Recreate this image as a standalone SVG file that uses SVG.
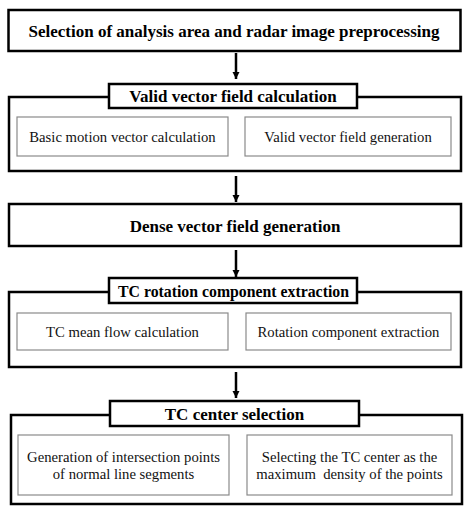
<svg xmlns="http://www.w3.org/2000/svg" width="474" height="515" viewBox="0 0 474 515">
<defs>
<marker id="ah" viewBox="0 0 10 10" refX="10" refY="5" markerWidth="3" markerHeight="3.4" orient="auto" markerUnits="strokeWidth">
<path d="M0,0 L10,5 L0,10 z" fill="#000"/>
</marker>
</defs>
<rect width="474" height="515" fill="#fff"/>
<g id="connectors" stroke="#000" stroke-width="2.5" fill="none">
<line x1="236" y1="53" x2="236" y2="79" marker-end="url(#ah)"/>
<line x1="236" y1="176" x2="236" y2="202" marker-end="url(#ah)"/>
<line x1="236" y1="250" x2="236" y2="277" marker-end="url(#ah)"/>
<line x1="236" y1="372" x2="236" y2="398" marker-end="url(#ah)"/>
</g>
<g id="n1">
<rect x="8.5" y="10" width="452" height="41" fill="#fff" stroke="#000" stroke-width="2.5"/>
<text x="234" y="37" font-family="Liberation Serif, Times New Roman, serif" text-anchor="middle" font-size="17" font-weight="bold" fill="#000">Selection of analysis area and radar image preprocessing</text>
</g>
<g id="n2">
<rect x="9" y="97" width="452" height="74" fill="#fff" stroke="#000" stroke-width="2.5"/>
<rect x="109" y="84" width="248" height="24" fill="#fff" stroke="#000" stroke-width="2.5"/>
<text x="233" y="102" font-family="Liberation Serif, Times New Roman, serif" text-anchor="middle" font-size="17" font-weight="bold" fill="#000">Valid vector field calculation</text>
<g id="n2a">
<rect x="17" y="117" width="211" height="39" fill="#fff" stroke="#8a8a8a" stroke-width="1.2"/>
<text x="122.5" y="141.5" font-family="Liberation Serif, Times New Roman, serif" text-anchor="middle" font-size="14.7" fill="#111">Basic motion vector calculation</text>
</g>
<g id="n2b">
<rect x="245" y="117" width="206" height="39" fill="#fff" stroke="#8a8a8a" stroke-width="1.2"/>
<text x="348" y="141.5" font-family="Liberation Serif, Times New Roman, serif" text-anchor="middle" font-size="14.7" fill="#111">Valid vector field generation</text>
</g>
</g>
<g id="n3">
<rect x="9" y="204" width="452" height="42" fill="#fff" stroke="#000" stroke-width="2.5"/>
<text x="235" y="232" font-family="Liberation Serif, Times New Roman, serif" text-anchor="middle" font-size="17" font-weight="bold" fill="#000">Dense vector field generation</text>
</g>
<g id="n4">
<rect x="9" y="292" width="452" height="75" fill="#fff" stroke="#000" stroke-width="2.5"/>
<rect x="109" y="278" width="248" height="25" fill="#fff" stroke="#000" stroke-width="2.5"/>
<text x="233.5" y="297" font-family="Liberation Serif, Times New Roman, serif" text-anchor="middle" font-size="15.8" font-weight="bold" fill="#000">TC rotation component extraction</text>
<g id="n4a">
<rect x="17" y="313" width="211" height="37" fill="#fff" stroke="#8a8a8a" stroke-width="1.2"/>
<text x="122.5" y="336.5" font-family="Liberation Serif, Times New Roman, serif" text-anchor="middle" font-size="14.7" fill="#111">TC mean flow calculation</text>
</g>
<g id="n4b">
<rect x="246" y="313" width="205" height="37" fill="#fff" stroke="#8a8a8a" stroke-width="1.2"/>
<text x="348.5" y="336.5" font-family="Liberation Serif, Times New Roman, serif" text-anchor="middle" font-size="14.7" fill="#111">Rotation component extraction</text>
</g>
</g>
<g id="n5">
<rect x="11" y="415" width="451" height="89" fill="#fff" stroke="#000" stroke-width="2.5"/>
<rect x="110" y="401" width="249" height="25" fill="#fff" stroke="#000" stroke-width="2.5"/>
<text x="234.5" y="420" font-family="Liberation Serif, Times New Roman, serif" text-anchor="middle" font-size="17" font-weight="bold" fill="#000">TC center selection</text>
<g id="n5a">
<rect x="18" y="435" width="211" height="60" fill="#fff" stroke="#8a8a8a" stroke-width="1.2"/>
<text x="123.5" y="461.5" font-family="Liberation Serif, Times New Roman, serif" text-anchor="middle" font-size="14.7" fill="#111">Generation of intersection points</text>
<text x="123.5" y="479" font-family="Liberation Serif, Times New Roman, serif" text-anchor="middle" font-size="14.7" fill="#111">of normal line segments</text>
</g>
<g id="n5b">
<rect x="247" y="435" width="205" height="60" fill="#fff" stroke="#8a8a8a" stroke-width="1.2"/>
<text x="349.5" y="461.5" font-family="Liberation Serif, Times New Roman, serif" text-anchor="middle" font-size="14.7" fill="#111">Selecting the TC center as the</text>
<text x="349.5" y="479" font-family="Liberation Serif, Times New Roman, serif" text-anchor="middle" font-size="14.7" fill="#111" xml:space="preserve">maximum  density of the points</text>
</g>
</g>
</svg>
